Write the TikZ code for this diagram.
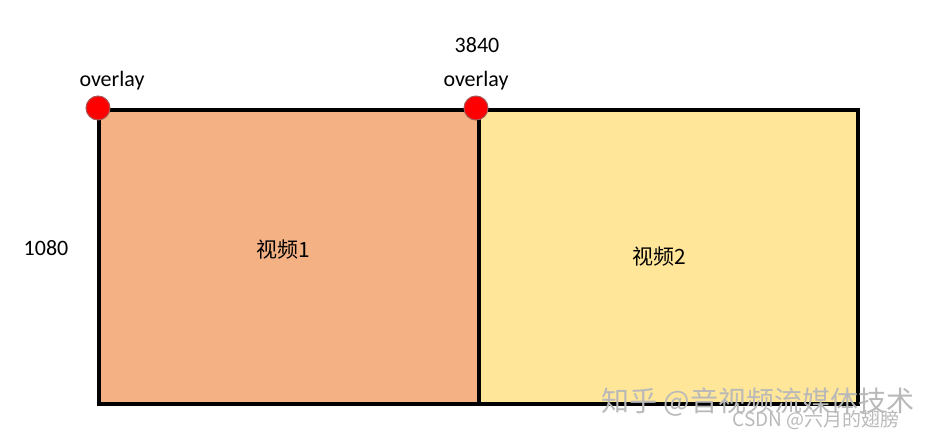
\documentclass[tikz,border=0pt]{standalone}
\usepackage{fontspec}
\setmainfont{Carlito}
\newfontfamily\cjk{Noto Sans CJK SC}
\definecolor{vorange}{HTML}{F4B183}
\definecolor{vyellow}{HTML}{FFE699}
\definecolor{dotred}{HTML}{FF0000}
\begin{document}
\begin{tikzpicture}[x=1pt,y=-1pt,
  vbox/.style={draw=black,line width=4pt,minimum width=380pt,minimum height=294pt,inner sep=0pt,anchor=north west},
  dot/.style={circle,fill=dotred,draw=gray!70!red,line width=1pt,minimum size=24pt,inner sep=0pt},
  lbl/.style={font=\fontsize{22}{26}\selectfont,text=black,inner sep=0pt},
  clbl/.style={font=\cjk\fontsize{21}{25}\selectfont,text=black,inner sep=0pt},
  wm/.style={font=\cjk\fontsize{#1}{#1}\selectfont,text=gray!55,inner sep=0pt}]
\useasboundingbox (0,0) rectangle (934,438);
\node[vbox,fill=vorange] (v1) at (97,108) {};
\node[vbox,fill=vyellow,minimum width=379pt] (v2) at (477,108) {};
\node[clbl] (t1) at (283,250) {视频1};
\node[clbl] (t2) at (659,257) {视频2};
\node[dot] (d1) at (98,108) {};
\node[dot] (d2) at (476,108) {};
\node[lbl] (o1) at (112,81) {overlay};
\node[lbl] (o2) at (476,81) {overlay};
\node[lbl] (w) at (477,45) {3840};
\node[lbl] (h) at (46,248) {1080};
\node[wm=28] (wm1) at (758,402) {知乎 @音视频流媒体技术};
\node[wm=19] (wm2) at (816,420) {CSDN @六月的翅膀};
\end{tikzpicture}
\end{document}
